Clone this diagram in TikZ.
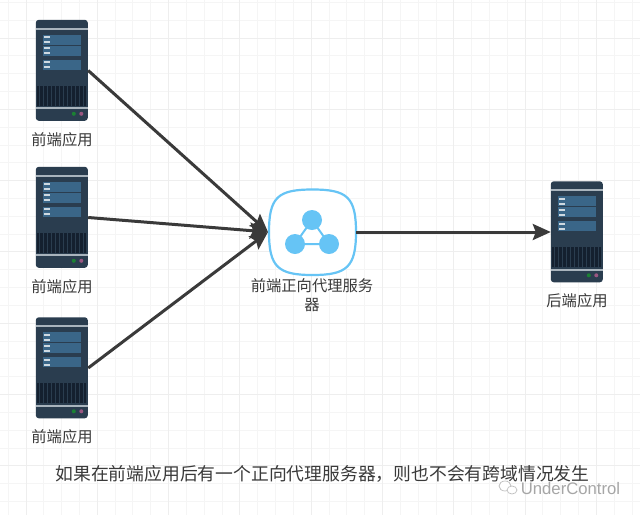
\documentclass[tikz,border=0pt]{standalone}
\usepackage{fontspec}
\setmainfont{Noto Sans CJK SC}
\newfontfamily\wmfont{Liberation Sans}
\usepackage{tikz}
\usetikzlibrary{arrows.meta}
\definecolor{bodydark}{HTML}{2A3D4F}
\definecolor{ventdark}{HTML}{14202F}
\definecolor{panelblue}{HTML}{3A6688}
\definecolor{striplight}{HTML}{A9B4BD}
\definecolor{proxyblue}{HTML}{66C4F5}
\definecolor{gridminor}{HTML}{F5F5F5}
\definecolor{gridmajor}{HTML}{EEEEEE}
\definecolor{inkdark}{HTML}{3A3A3A}
\tikzset{
    srvbox/.style={minimum width=52pt, minimum height=101pt, inner sep=0pt},
    lbl/.style={text=inkdark, font=\fontsize{15.3}{18}\selectfont, inner sep=0pt, align=center},
    conn/.style={-{Stealth[length=18pt,width=16pt,inset=3pt]}, inkdark, line width=3pt},
    pics/serverpic/.style={code={
        \fill[bodydark, rounded corners=3pt] (0,0) rectangle (52,101);
        \fill[striplight] (0,8) rectangle (52,10);
        \fill[ventdark] (1,66) rectangle (50,86);
        \foreach \k in {0,...,11} {
            \draw[bodydark, line width=0.5pt] (3+\k*4,66) -- (3+\k*4,86);
        }
        \fill[striplight] (0,87.5) rectangle (52,89.5);
        \foreach \j in {15,26,40} {
            \fill[panelblue] (7,\j) rectangle (45,\j+10);
            \fill[white!75!panelblue] (8,\j+1.5) rectangle (14,\j+3.5);
            \fill[white!75!panelblue] (8,\j+6.5) rectangle (14,\j+8.5);
        }
        \fill[green!35!bodydark] (38,94) circle (2);
        \fill[magenta!45!bodydark] (45.5,94) circle (2);
    }}
}
\begin{document}
\begin{tikzpicture}[x=1pt, y=-1pt]
    \useasboundingbox (0,0) rectangle (640,515);
    \fill[white] (0,0) rectangle (640,515);
    % grid
    \foreach \i in {0,...,35} {
        \draw[gridminor, line width=1pt] (8.2+\i*17.825,0) -- (8.2+\i*17.825,515);
    }
    \foreach \j in {0,...,28} {
        \draw[gridminor, line width=1pt] (0,2.4+\j*17.825) -- (640,2.4+\j*17.825);
    }
    \foreach \i in {0,...,8} {
        \draw[gridmajor, line width=1pt] (26+\i*71.3,0) -- (26+\i*71.3,515);
    }
    \foreach \j in {0,...,6} {
        \draw[gridmajor, line width=1pt] (0,38+\j*71.3) -- (640,38+\j*71.3);
    }
    % servers
    \node[srvbox] (frontA) at (62,70.5) {};
    \node[srvbox] (frontB) at (62,217.5) {};
    \node[srvbox] (frontC) at (62,368) {};
    \node[srvbox] (backend) at (577,232) {};
    \foreach \n in {frontA,frontB,frontC,backend} {
        \path (\n.north west) pic {serverpic};
    }
    % proxy
    \node[minimum size=87pt, inner sep=0pt] (proxy) at (312.5,232) {};
    \draw[proxyblue, line width=2.2pt, fill=white]
        (312.5,189.5) .. controls (347,189.5) and (356,197) .. (356,232)
        .. controls (356,267) and (347,275) .. (312.5,275)
        .. controls (278,275) and (269,267) .. (269,232)
        .. controls (269,197) and (278,189.5) .. (312.5,189.5) -- cycle;
    \draw[proxyblue, line width=2pt] (312,220) -- (295,244) -- (329,244) -- cycle;
    \foreach \x/\y in {312/220,295/244,329/244} {
        \fill[proxyblue] (\x,\y) circle (10);
    }
    % connectors
    \coordinate (proxyin) at (268,232);
    \foreach \n in {frontA,frontB,frontC} {
        \draw[conn] (\n.east) -- (proxyin);
    }
    \draw[conn] (proxy.east) -- (backend.west);
    % labels
    \node[lbl] (lblA) at (62,140) {前端应用};
    \node[lbl] (lblB) at (62,287) {前端应用};
    \node[lbl] (lblC) at (62,437) {前端应用};
    \node[lbl] (lblD) at (577,301) {后端应用};
    \node[lbl, font=\fontsize{15.3}{19}\selectfont] (lblP) at (312,295.5) {前端正向代理服务\\器};
    \node[lbl, font=\fontsize{17.8}{20}\selectfont] (caption) at (322.5,474) {如果在前端应用后有一个正向代理服务器，则也不会有跨域情况发生};
    % watermark
    \node[text=gray!70, font=\wmfont\fontsize{16.7}{18}\selectfont, inner sep=0pt] (mark) at (570.5,489) {UnderControl};
    \draw[gray!50, line width=0.7pt, fill=white] (505,486) ellipse (6 and 5);
    \draw[gray!50, line width=0.7pt, fill=white] (512,490) ellipse (5 and 4);
\end{tikzpicture}
\end{document}
